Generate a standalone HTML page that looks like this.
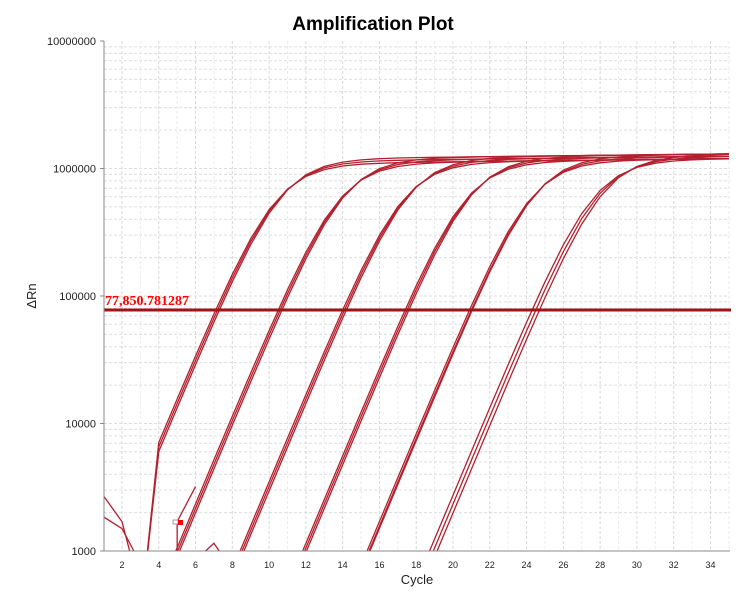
<!DOCTYPE html>
<html><head><meta charset="utf-8"><style>
html,body{margin:0;padding:0;width:752px;height:600px;overflow:hidden;background:#fff;}
svg{display:block;font-family:"Liberation Sans",sans-serif;}
</style></head><body>
<svg id="s" width="752" height="600" xmlns="http://www.w3.org/2000/svg">
<defs><clipPath id="c"><rect x="104" y="41" width="626" height="510"/></clipPath></defs>
<rect width="752" height="600" fill="#fff"/>
<g id="grid"></g>
<g id="curves" clip-path="url(#c)" fill="none" stroke="#b3202e" stroke-width="1.3"></g>
<line x1="104" y1="310" x2="731" y2="310" stroke="#a01418" stroke-width="3"/>
<text x="105" y="305" font-family="Liberation Serif,serif" font-weight="bold" font-size="14" fill="#f00">77,850.781287</text>
<rect x="173" y="520" width="5" height="4" fill="#fff" stroke="#888" stroke-width="0.8"/>
<rect x="178" y="520" width="5" height="5" fill="#f00"/>
<line x1="104" y1="41" x2="104" y2="551" stroke="#888"/>
<line x1="104" y1="551" x2="730" y2="551" stroke="#888"/>
<g id="labels" font-size="11" fill="#222"></g>
<text x="373" y="30" text-anchor="middle" font-weight="bold" font-size="19" fill="#000">Amplification Plot</text>
<text x="417" y="584" text-anchor="middle" font-size="13" fill="#222">Cycle</text>
<text transform="translate(36,296) rotate(-90)" text-anchor="middle" font-size="13" fill="#222">ΔRn</text>
</svg>
<script>
var NS="http://www.w3.org/2000/svg";
function el(p,t,a,txt){var e=document.createElementNS(NS,t);for(var k in a)e.setAttribute(k,a[k]);if(txt)e.textContent=txt;document.getElementById(p).appendChild(e);}
function X(c){return 103.6+(c-1)*18.39;}
function Y(v){return 551-(Math.log10(v)-3)*127.5;}
for(var d=3;d<7;d++)for(var m=1;m<10;m++){var y=Y(m*Math.pow(10,d));el("grid","line",{x1:104,x2:730,y1:y,y2:y,stroke:"#ddd","stroke-dasharray":"3,2","stroke-width":1});}
for(var c=2;c<=35;c++){var x=X(c);el("grid","line",{x1:x,x2:x,y1:41,y2:551,stroke:c%2==0?"#d8d8d8":"#ececec","stroke-dasharray":"3,2","stroke-width":1});}
for(var d=3;d<=7;d++){el("labels","text",{x:96,y:Y(Math.pow(10,d))+4,"text-anchor":"end"},String(Math.pow(10,d)));el("labels","line",{x1:100,x2:104,y1:Y(Math.pow(10,d)),y2:Y(Math.pow(10,d)),stroke:"#888"});}
for(var c=2;c<=34;c+=2)el("labels","text",{x:X(c),y:568,"text-anchor":"middle","font-size":"9"},String(c));
var groups=[[7.1,7.2,7.3],[10.5,10.6,10.7],[14.0,14.1,14.2],[17.4,17.5,17.6],[20.9,21.0,21.05],[24.3,24.5,24.7]];
var k=1.26;
groups.forEach(function(g,gi){g.forEach(function(ct,i){
 var F=1.1e6+i*5e4+gi*1.5e4, c0=ct+k*Math.log(F/77850-1);
 var pts=[];
 for(var c=1;c<=35;c++){
  var v=F/(1+Math.exp(-(c-c0)/k))*(1+0.004*Math.max(0,c-c0-3));
  if(gi==0&&c<4)v=300;
  pts.push(X(c).toFixed(1)+","+Y(Math.max(v,100)).toFixed(1));
 }
 el("curves","polyline",{points:pts.join(" ")});
});});
el("curves","polyline",{points:[X(1)+","+Y(2700),X(2)+","+Y(1700),X(2.5)+","+Y(900)].join(" ")});
el("curves","polyline",{points:[X(1)+","+Y(1850),X(2)+","+Y(1500),X(3)+","+Y(800)].join(" ")});
el("curves","polyline",{points:[X(6.2)+","+Y(900),X(7)+","+Y(1150),X(7.5)+","+Y(900)].join(" ")});
el("curves","polyline",{points:[X(5)+","+Y(1700),X(5)+","+Y(800)].join(" ")});
el("curves","polyline",{points:[X(5)+","+Y(1700),X(6)+","+Y(3200)].join(" ")});
</script>
</body></html>
